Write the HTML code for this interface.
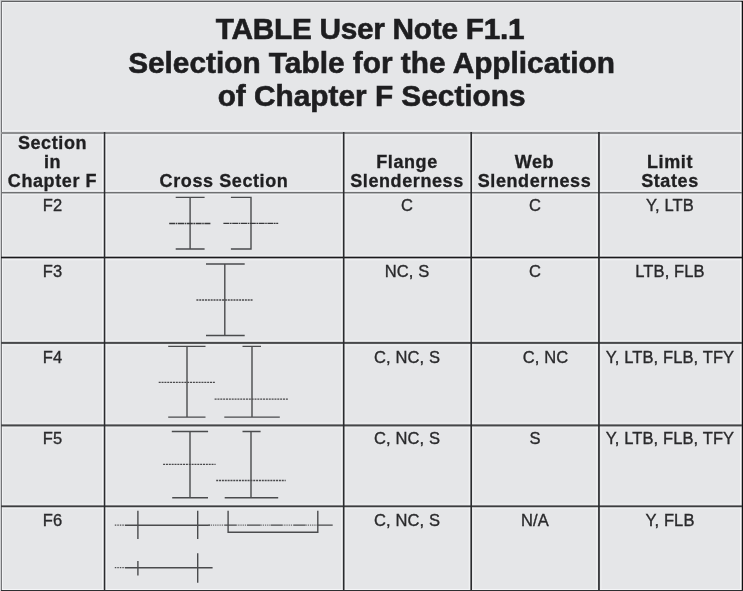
<!DOCTYPE html>
<html><head><meta charset="utf-8">
<style>
html,body{margin:0;padding:0;background:#e5e6e8;}
body{width:743px;height:591px;overflow:hidden;position:relative;}
svg{position:absolute;left:0;top:0;display:block;will-change:transform;}
.t{font-family:"Liberation Sans",sans-serif;font-weight:bold;font-size:29.8px;fill:#1e1e20;stroke:#1e1e20;stroke-width:0.6px;}
.h{font-family:"Liberation Sans",sans-serif;font-weight:bold;font-size:18px;fill:#202022;letter-spacing:0.6px;stroke:#202022;stroke-width:0.3px;}
.b{font-family:"Liberation Sans",sans-serif;font-size:16.5px;fill:#2a2a2c;letter-spacing:0.12px;stroke:#2a2a2c;stroke-width:0.35px;}
</style></head>
<body>
<svg width="743" height="591" viewBox="0 0 743 591">
<rect x="0" y="0" width="743" height="591" fill="#e5e6e8"/>
<!-- outer frame -->
<rect x="0" y="0" width="743" height="1" fill="#b4b5b7"/>
<rect x="0" y="0" width="1" height="591" fill="#cfd0d2"/>
<rect x="1" y="1" width="742" height="1" fill="#606163"/>
<rect x="1" y="1" width="1" height="590" fill="#737477"/>
<rect x="741.5" y="1" width="1.5" height="590" fill="#101012"/>
<rect x="1" y="590" width="742" height="1" fill="#2e2f31"/>
<rect x="2" y="2" width="739" height="1" fill="#eff0f2"/>
<rect x="2" y="2" width="1" height="588" fill="#f2f3f5"/>
<rect x="2" y="589" width="739" height="1" fill="#f4f5f7"/>
<rect x="740" y="2" width="1.5" height="588" fill="#f6f7f9"/>

<!-- halos -->
<g fill="#eeeff1">
<rect x="2" y="130" width="739" height="1"/>
<rect x="2" y="134.5" width="739" height="1"/>
<rect x="2" y="190" width="739" height="1"/>
<rect x="2" y="194" width="739" height="1"/>
<rect x="2" y="255" width="739" height="1"/>
<rect x="2" y="259.2" width="739" height="1" fill="#f4f5f7"/>
<rect x="2" y="340.2" width="739" height="1"/>
<rect x="2" y="344.6" width="739" height="1"/>
<rect x="2" y="422.6" width="739" height="1"/>
<rect x="2" y="427.2" width="739" height="1"/>
<rect x="2" y="503.6" width="739" height="1"/>
<rect x="2" y="508" width="739" height="1"/>
<rect x="102" y="134" width="1" height="455" fill="#f3f4f6"/>
<rect x="106" y="134" width="1" height="455"/>
<rect x="341.2" y="134" width="1" height="455" fill="#f3f4f6"/>
<rect x="345.3" y="134" width="1" height="455"/>
<rect x="468.8" y="134" width="1" height="455" fill="#f3f4f6"/>
<rect x="472.8" y="134" width="1" height="455"/>
<rect x="596.4" y="134" width="1" height="455" fill="#f3f4f6"/>
<rect x="600.6" y="134" width="1" height="455"/>
</g>
<!-- horizontal rules -->
<rect x="1" y="132" width="741" height="2" fill="#8d8e90"/>
<rect x="1" y="192" width="741" height="1.4" fill="#6f7072"/>
<rect x="1" y="256.7" width="741" height="1.6" fill="#1a1a1c"/>
<rect x="1" y="341.9" width="741" height="2" fill="#48494b"/>
<rect x="1" y="424.4" width="741" height="2" fill="#454648"/>
<rect x="1" y="505.4" width="741" height="1.8" fill="#3c3d3f"/>

<!-- vertical rules -->
<rect x="103.8" y="132" width="1.5" height="458" fill="#2a2b2e"/>
<rect x="342.9" y="132" width="1.6" height="458" fill="#2a2b2e"/>
<rect x="470.4" y="132" width="1.6" height="458" fill="#2a2b2e"/>
<rect x="598.1" y="132" width="1.7" height="458" fill="#2a2b2e"/>

<!-- title -->
<text class="t" x="370" y="39.4" text-anchor="middle" style="letter-spacing:-0.28px">TABLE User Note F1.1</text>
<text class="t" x="371.5" y="72.9" text-anchor="middle">Selection Table for the Application</text>
<text class="t" x="371.6" y="106.1" text-anchor="middle">of Chapter F Sections</text>

<!-- header -->
<text class="h" x="52.5" y="149" text-anchor="middle">Section</text>
<text class="h" x="52.5" y="167.6" text-anchor="middle">in</text>
<text class="h" x="52.5" y="186.5" text-anchor="middle">Chapter F</text>
<text class="h" x="224" y="186.5" text-anchor="middle">Cross Section</text>
<text class="h" x="407" y="167.6" text-anchor="middle">Flange</text>
<text class="h" x="407" y="186.5" text-anchor="middle">Slenderness</text>
<text class="h" x="534.5" y="167.6" text-anchor="middle">Web</text>
<text class="h" x="534.5" y="186.5" text-anchor="middle">Slenderness</text>
<text class="h" x="670" y="167.6" text-anchor="middle">Limit</text>
<text class="h" x="670" y="186.5" text-anchor="middle">States</text>

<!-- body text -->
<g class="b" text-anchor="middle">
<text x="52.5" y="211.2">F2</text>
<text x="407" y="211.2">C</text>
<text x="535" y="211.2">C</text>
<text x="670" y="211.2">Y, LTB</text>

<text x="52.5" y="276.5">F3</text>
<text x="407" y="276.5">NC, S</text>
<text x="535" y="276.5">C</text>
<text x="670" y="276.5">LTB, FLB</text>

<text x="52.5" y="362.6">F4</text>
<text x="407" y="362.6">C, NC, S</text>
<text x="545.5" y="362.6">C, NC</text>
<text x="670" y="362.6">Y, LTB, FLB, TFY</text>

<text x="52.5" y="443.5">F5</text>
<text x="407" y="443.5">C, NC, S</text>
<text x="535" y="443.5">S</text>
<text x="670" y="443.5">Y, LTB, FLB, TFY</text>

<text x="52.5" y="526.3">F6</text>
<text x="407" y="526.3">C, NC, S</text>
<text x="535" y="526.3">N/A</text>
<text x="670" y="526.3">Y, FLB</text>
</g>

<!-- cross sections -->
<g stroke="#4a4b4d" stroke-width="1.4" fill="none">
<!-- F2 I -->
<path d="M175.7 197.4H204.6M190.1 197.4V249M175.7 249H204.6"/>
<!-- F2 channel -->
<path d="M230.9 197.4H251V249H230.9"/>
<!-- F3 I -->
<path d="M206 264H244.7M224.8 264V335.5M206 335.5H244.7"/>
<!-- F4 -->
<path d="M168.2 346.4H205.5M187 346.4V417.1M168.2 417.1H205.5"/>
<path d="M242.5 346.4H261M252 346.4V417.1M224.3 417.1H279.8"/>
<!-- F5 -->
<path d="M171.8 431.5H208.1M190 431.5V497.7M172.2 497.7H208"/>
<path d="M242.5 431.5H260.6M251 431.5V497.7M224.7 497.7H278.2"/>
<!-- F6 upper I minor axis -->
<path d="M137.9 510.8V539.1M197.7 510.8V539.1M125 525.2H210"/>
<!-- F6 channel -->
<path d="M228.1 510.8V532.2H317.8V510.8"/>
<!-- F6 lower -->
<path d="M137.9 561V575.5M197.7 553.2V582.7M125 567.7H212.6"/>
</g>
<!-- axis dashed lines -->
<g stroke="#38393b" stroke-width="1.3" fill="none" stroke-dasharray="6 0.6 1.6 0.6">
<path d="M169.2 223.5H210.8"/>
<path d="M223.4 223.4H278.2"/>
</g>
<g stroke="#49494b" stroke-width="1.3" fill="none" stroke-dasharray="2 0.85">
<path d="M196.4 300H253.3"/>
<path d="M158.7 382.4H214.9"/>
<path d="M214.6 399.1H288.3"/>
<path d="M163.1 464.4H215.6"/>
<path d="M216.2 480.5H285.7"/>
</g>
<g stroke="#505153" stroke-width="1.3" fill="none" stroke-dasharray="1.5 1">
<path d="M114.8 525.2H125"/>
<path d="M114.8 567.7H125"/>
</g>
<g stroke="#48494b" stroke-width="1.3" fill="none">
<path d="M225 525.2H236M247 525.2H260.5M271 525.2H282M294 525.2H305.5M317 525.2H332.7"/>
</g>
<g stroke="#6a6b6d" stroke-width="1.2" fill="none" stroke-dasharray="1.3 0.9">
<path d="M208.5 525.2H225M236 525.2H247M260.5 525.2H271M282 525.2H294M305.5 525.2H317"/>
</g>
</svg>
</body></html>
